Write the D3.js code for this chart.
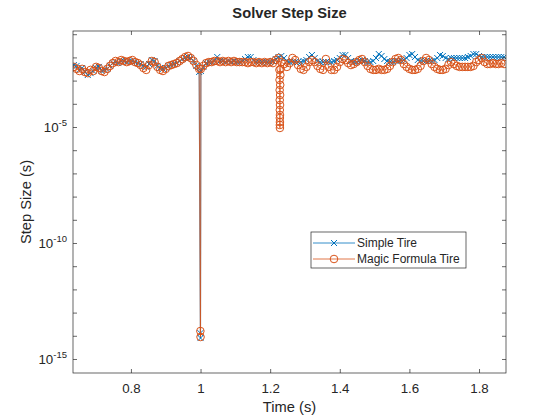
<!DOCTYPE html>
<html>
<head>
<meta charset="utf-8">
<script src="https://cdn.jsdelivr.net/npm/d3@7"></script>
<style>
  html, body { margin: 0; padding: 0; background: #fff; }
  text { font-family: "Liberation Sans", Arial, Helvetica, sans-serif; fill: #262626; }
</style>
</head>
<body>
<svg id="chart" width="560" height="420"></svg>
<script>
// ---------------- data ----------------
const titleText = "Solver Step Size";
const xLabelText = "Time (s)";
const yLabelText = "Step Size (s)";
const seriesNames = ["Simple Tire", "Magic Formula Tire"];

const xTicks = [0.8, 1, 1.2, 1.4, 1.6, 1.8];
const yTickExponents = [-15, -14, -13, -12, -11, -10, -9, -8, -7, -6, -5, -4, -3, -2, -1];
const yLabelExponents = [-15, -10, -5];
const xDomain = [0.6336, 1.8775];
const yDomain = [2.49e-16, 1.375e-1];

// time segments (s)
const timeA = [0.636,0.644,0.652,0.660,0.668,0.676,0.684,0.692,0.700,0.708,0.716,0.724,0.732,0.740,0.748,0.756,0.764,0.772,0.780,0.788,0.796,0.804,0.812,0.820,0.828,0.836,0.844,0.852,0.860,0.868,0.876,0.884,0.892,0.900,0.908,0.916,0.924,0.932,0.940,0.948,0.956,0.964,0.972,0.980,0.988,0.996,
               0.9995,1.0000,1.001];
const timeB = [1.008,1.016,1.024,1.032,1.040,1.048,1.056,1.064,1.072,1.080,1.088,1.096,1.104,1.112,1.120,1.128,1.136,1.144,1.152,1.160,1.168,1.176,1.184,1.192,1.200,1.208,1.216,1.224];
const timeColumn = [1.2266,1.2270,1.2273,1.2275,1.2277,1.2278,1.2279,1.2280,1.2281,1.2282,1.2284,1.2286,1.2289,1.2293,1.2300];
const timeC = [1.232,1.240,1.248,1.256,1.264,1.272,1.280,1.288,1.296,1.304,1.312,1.320,1.328,1.336,1.344,1.352,1.360,1.368,1.376,1.384,1.392,1.400,1.408,1.416,1.424,1.432,1.440,1.448,1.456,1.464,1.472,1.480,1.488,1.496,1.504,1.512,1.520,1.528,1.536,1.544,1.552,1.560,1.568,1.576,1.584,1.592,1.600,1.608,1.616,1.624,1.632,1.640,1.648,1.656,1.664,1.672,1.680,1.688,1.696,1.704,1.712,1.720,1.728,1.736,1.744,1.752,1.760,1.768,1.776,1.784,1.792,1.800,1.808,1.816,1.824,1.832,1.840,1.848,1.856,1.864,1.872];

// Simple Tire step sizes (s)
const simpleStepA = [4.7e-3,4.3e-3,2.9e-3,3.5e-3,2.35e-3,1.74e-3,2.1e-3,2.6e-3,3.5e-3,3.9e-3,2.6e-3,2.9e-3,3.2e-3,4.3e-3,5.7e-3,6.3e-3,5.7e-3,7.0e-3,7.0e-3,6.3e-3,7.0e-3,7.0e-3,6.3e-3,5.7e-3,5.2e-3,4.3e-3,3.9e-3,5.2e-3,7.7e-3,7.0e-3,4.3e-3,3.5e-3,3.2e-3,3.5e-3,4.3e-3,4.7e-3,5.2e-3,5.7e-3,7.0e-3,8.5e-3,9.4e-3,1.04e-2,9.4e-3,7.0e-3,4.3e-3,2.35e-3,
                     1.3e-14,8.0e-15,2.6e-3];
const simpleStepB = [3.9e-3,5.7e-3,6.3e-3,6.3e-3,7.0e-3,1.04e-2,7.0e-3,7.0e-3,6.3e-3,7.0e-3,6.3e-3,7.0e-3,6.3e-3,6.3e-3,7.0e-3,8.5e-3,1.04e-2,1.04e-2,7.7e-3,6.3e-3,6.3e-3,6.3e-3,6.3e-3,6.3e-3,6.3e-3,7.0e-3,8.5e-3,1.04e-2];
const simpleStepC = [1.15e-2,9.4e-3,7.0e-3,6.3e-3,6.3e-3,6.3e-3,6.3e-3,6.3e-3,7.0e-3,7.7e-3,1.04e-2,1.27e-2,9.4e-3,7.0e-3,6.3e-3,6.3e-3,
                     6.3e-3,6.3e-3,6.3e-3,7.0e-3,7.7e-3,9.4e-3,1.27e-2,1.27e-2,9.4e-3,7.0e-3,6.3e-3,6.3e-3,7.0e-3,7.7e-3,7.0e-3,6.3e-3,
                     6.3e-3,7.0e-3,9.4e-3,1.40e-2,1.15e-2,8.5e-3,7.0e-3,6.3e-3,6.3e-3,7.0e-3,7.0e-3,7.7e-3,7.7e-3,9.4e-3,1.27e-2,1.40e-2,
                     1.04e-2,7.7e-3,7.0e-3,7.0e-3,7.0e-3,7.0e-3,7.0e-3,7.7e-3,9.4e-3,1.27e-2,1.15e-2,9.4e-3,8.5e-3,9.4e-3,9.4e-3,9.4e-3,
                     9.4e-3,9.4e-3,9.4e-3,1.04e-2,1.15e-2,1.40e-2,1.40e-2,1.15e-2,1.04e-2,1.04e-2,1.04e-2,1.04e-2,1.04e-2,1.04e-2,1.04e-2,1.04e-2,1.04e-2];

// Magic Formula Tire step sizes (s)
const magicStepA = [3.9e-3,3.2e-3,2.6e-3,3.2e-3,2.35e-3,2.1e-3,2.9e-3,2.6e-3,3.9e-3,3.5e-3,2.6e-3,2.35e-3,3.2e-3,4.3e-3,5.7e-3,7.0e-3,6.3e-3,7.7e-3,7.0e-3,6.3e-3,7.0e-3,7.7e-3,6.3e-3,5.7e-3,4.7e-3,3.5e-3,2.9e-3,4.7e-3,7.0e-3,6.3e-3,3.9e-3,2.9e-3,2.6e-3,3.2e-3,4.3e-3,4.7e-3,5.2e-3,5.7e-3,7.0e-3,8.5e-3,1.04e-2,1.15e-2,9.4e-3,7.0e-3,4.7e-3,3.2e-3,
                    1.6e-14,8.9e-15,3.2e-3];
const magicStepB = [4.3e-3,5.7e-3,6.3e-3,6.3e-3,7.0e-3,7.0e-3,6.3e-3,7.0e-3,6.3e-3,7.0e-3,6.3e-3,7.0e-3,6.3e-3,6.3e-3,6.3e-3,6.3e-3,5.7e-3,6.3e-3,6.3e-3,5.7e-3,6.3e-3,5.7e-3,6.3e-3,5.7e-3,6.3e-3,5.7e-3,7.7e-3,9.4e-3];
const magicStepColumn = [2.9e-3,1.07e-3,3.9e-4,1.45e-4,5.4e-5,2.45e-5,1.22e-5,9.1e-6,1.64e-5,3.3e-5,8.9e-5,2.4e-4,6.5e-4,1.74e-3,3.2e-3];
const magicStepC = [6.3e-3,5.2e-3,3.9e-3,5.7e-3,9.4e-3,7.7e-3,4.7e-3,3.2e-3,2.9e-3,3.9e-3,6.3e-3,7.7e-3,6.3e-3,4.3e-3,3.2e-3,2.9e-3,
                    8.5e-3,3.9e-3,2.9e-3,2.9e-3,3.9e-3,6.3e-3,8.5e-3,7.7e-3,5.7e-3,4.7e-3,5.2e-3,6.3e-3,7.7e-3,8.5e-3,6.3e-3,4.3e-3,
                    3.2e-3,2.9e-3,2.9e-3,3.2e-3,2.9e-3,2.9e-3,3.2e-3,4.3e-3,6.3e-3,8.5e-3,9.4e-3,7.7e-3,5.2e-3,3.9e-3,3.2e-3,2.9e-3,
                    2.9e-3,3.2e-3,4.3e-3,7.0e-3,9.4e-3,7.7e-3,5.2e-3,3.9e-3,3.2e-3,2.9e-3,2.9e-3,3.2e-3,4.7e-3,6.3e-3,5.2e-3,4.3e-3,
                    3.9e-3,3.9e-3,3.9e-3,3.9e-3,3.9e-3,4.3e-3,6.3e-3,7.7e-3,9.4e-3,6.3e-3,5.2e-3,5.2e-3,5.7e-3,5.2e-3,5.2e-3,5.7e-3,5.2e-3];

const simpleTime = timeA.concat(timeB, timeC);
const simpleStep = simpleStepA.concat(simpleStepB, simpleStepC);
const magicTime = timeA.concat(timeB, timeColumn, timeC);
const magicStep = magicStepA.concat(magicStepB, magicStepColumn, magicStepC);

// ---------------- drawing ----------------
const colors = ["#0072BD", "#D95319"];
const axisColor = "#262626";
const L = 73, R = 506, T = 31, B = 373;
const markW = 1.0;

const svg = d3.select("#chart");
const x = d3.scaleLinear().domain(xDomain).range([L, R]);
const y = d3.scaleLog().domain(yDomain).range([B, T]);

const simpleData = simpleTime.map((t, i) => ({ t, h: simpleStep[i] }));
const magicData = magicTime.map((t, i) => ({ t, h: magicStep[i] }));

svg.append("rect").attr("x", L).attr("y", T).attr("width", R - L).attr("height", B - T).attr("fill", "#fff");

const plot = svg.append("g");
plot.append("clipPath").attr("id", "clip").append("rect")
  .attr("x", L).attr("y", T).attr("width", R - L).attr("height", B - T);
const pg = plot.append("g").attr("clip-path", "url(#clip)");

const line = d3.line().x(d => x(d.t)).y(d => y(d.h));

// Simple Tire
pg.append("path").datum(simpleData).attr("d", line)
  .attr("fill", "none").attr("stroke", colors[0]).attr("stroke-width", 0.8);
const xs = 3;
pg.append("g").selectAll("path").data(simpleData).join("path")
  .attr("d", d => {
    const cx = x(d.t), cy = y(d.h);
    return `M${cx - xs},${cy - xs}L${cx + xs},${cy + xs}M${cx - xs},${cy + xs}L${cx + xs},${cy - xs}`;
  })
  .attr("stroke", colors[0]).attr("stroke-width", markW).attr("fill", "none");

// Magic Formula Tire
pg.append("path").datum(magicData).attr("d", line)
  .attr("fill", "none").attr("stroke", colors[1]).attr("stroke-width", 0.8);
pg.append("g").selectAll("circle").data(magicData).join("circle")
  .attr("cx", d => x(d.t)).attr("cy", d => y(d.h)).attr("r", 3.8)
  .attr("fill", "none").attr("stroke", colors[1]).attr("stroke-width", markW);

// axes
const fontTick = 13.3;
const gx = svg.append("g").attr("transform", `translate(0,${B})`)
  .call(d3.axisBottom(x).tickValues(xTicks).tickSizeInner(-4).tickSizeOuter(0).tickPadding(11)
    .tickFormat(d => String(d)));
const gxTop = svg.append("g").attr("transform", `translate(0,${T})`)
  .call(d3.axisTop(x).tickValues(xTicks).tickSizeInner(-4).tickSizeOuter(0).tickFormat(""));
const yTickVals = yTickExponents.map(e => Math.pow(10, e));
const gy = svg.append("g").attr("transform", `translate(${L},0)`)
  .call(d3.axisLeft(y).tickValues(yTickVals).tickSizeInner(-4).tickSizeOuter(0).tickFormat(""));
const gyR = svg.append("g").attr("transform", `translate(${R},0)`)
  .call(d3.axisRight(y).tickValues(yTickVals).tickSizeInner(-4).tickSizeOuter(0).tickFormat(""));

[gx, gxTop, gy, gyR].forEach(g => {
  g.select(".domain").remove();
  g.selectAll(".tick line").attr("stroke", axisColor).attr("stroke-width", 0.7);
});
gx.selectAll(".tick text")
  .attr("font-family", '"Liberation Sans", Arial, sans-serif')
  .attr("font-size", fontTick).attr("fill", axisColor);

yLabelExponents.forEach(e => {
  const t = svg.append("text")
    .attr("x", L - 6).attr("y", y(Math.pow(10, e)) + 4.8)
    .attr("text-anchor", "end").attr("font-size", fontTick);
  t.append("tspan").text("10");
  t.append("tspan").attr("dy", -6).attr("font-size", 9.5).text(String(e));
});

svg.append("rect").attr("x", L).attr("y", T).attr("width", R - L).attr("height", B - T)
  .attr("fill", "none").attr("stroke", axisColor).attr("stroke-width", 0.7);

svg.append("text").attr("x", (L + R) / 2).attr("y", 17.5).attr("text-anchor", "middle")
  .attr("font-size", 14.7).attr("font-weight", "bold").attr("fill", "#000").text(titleText);
svg.append("text").attr("x", (L + R) / 2).attr("y", 412).attr("text-anchor", "middle")
  .attr("font-size", 14.7).text(xLabelText);
svg.append("text").attr("transform", `translate(31,${(T + B) / 2}) rotate(-90)`)
  .attr("text-anchor", "middle").attr("font-size", 14.7).text(yLabelText);

// legend
const lg = svg.append("g");
lg.append("rect").attr("x", 311).attr("y", 232).attr("width", 155).attr("height", 36)
  .attr("fill", "#fff").attr("stroke", axisColor).attr("stroke-width", 0.7);
const rows = [243, 259];
seriesNames.forEach((name, i) => {
  const ry = rows[i];
  lg.append("line").attr("x1", 313).attr("x2", 355).attr("y1", ry).attr("y2", ry)
    .attr("stroke", colors[i]).attr("stroke-width", 0.8);
  if (i === 0) {
    lg.append("path")
      .attr("d", `M${334 - xs},${ry - xs}L${334 + xs},${ry + xs}M${334 - xs},${ry + xs}L${334 + xs},${ry - xs}`)
      .attr("stroke", colors[0]).attr("stroke-width", markW);
  } else {
    lg.append("circle").attr("cx", 334).attr("cy", ry).attr("r", 3.8)
      .attr("fill", "none").attr("stroke", colors[1]).attr("stroke-width", markW);
  }
  lg.append("text").attr("x", 357).attr("y", ry + 4.3).attr("font-size", 12).attr("fill", "#000").text(name);
});
</script>
</body>
</html>
